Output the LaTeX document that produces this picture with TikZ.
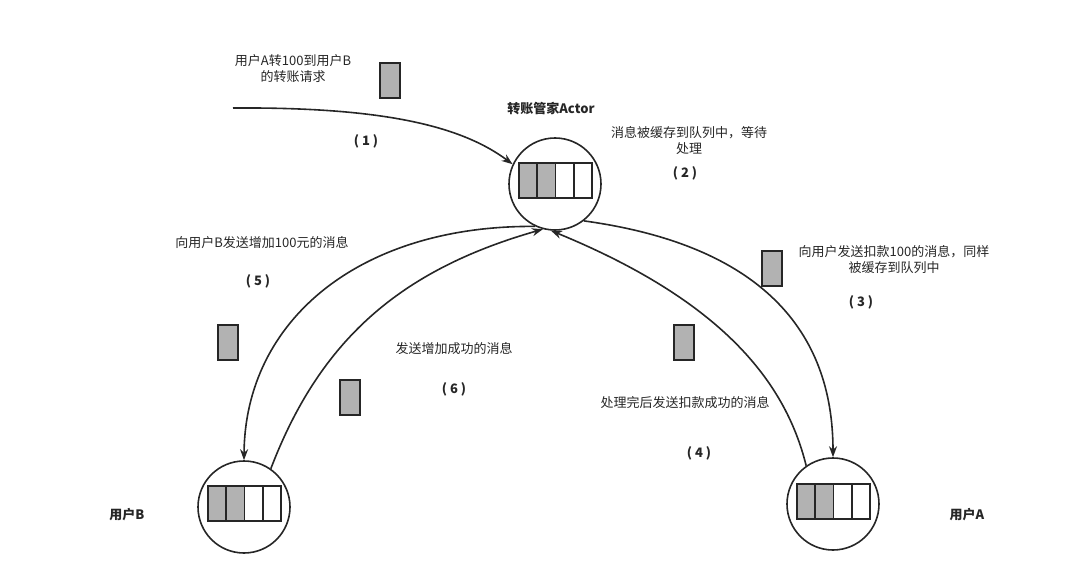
\documentclass[tikz,border=0pt]{standalone}
\usepackage{fontspec}
\setmainfont{Noto Sans CJK SC}
\usetikzlibrary{arrows.meta}
\begin{document}
\begin{tikzpicture}[x=1pt,y=-1pt,
  actor/.style={circle,draw=black!85,line width=1.6pt,minimum size=92pt,inner sep=0pt},
  cellg/.style={draw=black!85,fill=black!30,line width=1.6pt},
  cellw/.style={draw=black!85,fill=white,line width=1.6pt},
  msg/.style={draw=black!85,fill=black!30,line width=1.6pt},
  lbl/.style={font=\fontsize{13}{16}\selectfont,align=center,text=black!85},
  blbl/.style={font=\fontsize{13}{16}\selectfont\bfseries,text=black!85},
  conn/.style={draw=black!85,line width=1.6pt,-{Stealth[length=11pt,width=8pt]}}]
\useasboundingbox (0,0) rectangle (1079,586);
\node[actor] (T) at (555,184) {};
\node[actor] (B) at (244,507) {};
\node[actor] (A) at (833,504) {};
\foreach \x/\y in {519/163,208/486,797/484}{
  \draw[cellg] (\x,\y) rectangle ++(18.25,35);
  \draw[cellg] (\x+18.25,\y) rectangle ++(18.25,35);
  \draw[cellw] (\x+36.5,\y) rectangle ++(18.25,35);
  \draw[cellw] (\x+54.75,\y) rectangle ++(18.25,35);
}
\foreach \x/\y in {380/63,762/251,674/325,218/325,340/380}{
  \draw[msg] (\x,\y) rectangle ++(20,35);
}
\coordinate (s1) at (233,108);
\draw[conn] (s1) .. controls (380,107) and (460,125) .. (T.155);
\draw[conn] (T.-52) .. controls (760,245) and (833,330) .. (A.90);
\draw[conn] (A.125) .. controls (785,380) and (720,300) .. (T.-95);
\draw[conn] (T.-115) .. controls (360,225) and (245,320) .. (B.90);
\draw[conn] (B.55) .. controls (320,340) and (400,270) .. (T.-105);
\node[lbl] at (293,69) {用户A转100到用户B\\的转账请求};
\node[blbl] at (366,141) {( 1 )};
\node[blbl] at (551,109) {转账管家Actor};
\node[lbl] at (689,141) {消息被缓存到队列中，等待\\处理};
\node[blbl] at (685,173) {( 2 )};
\node[lbl] at (894,260) {向用户发送扣款100的消息，同样\\被缓存到队列中};
\node[blbl] at (861,302) {( 3 )};
\node[lbl] at (685,403) {处理完后发送扣款成功的消息};
\node[blbl] at (699,453) {( 4 )};
\node[lbl] at (262,243) {向用户B发送增加100元的消息};
\node[blbl] at (258,281) {( 5 )};
\node[lbl] at (454,349) {发送增加成功的消息};
\node[blbl] at (454,389) {( 6 )};
\node[blbl] at (127,515) {用户B};
\node[blbl] at (967,515) {用户A};
\end{tikzpicture}
\end{document}
